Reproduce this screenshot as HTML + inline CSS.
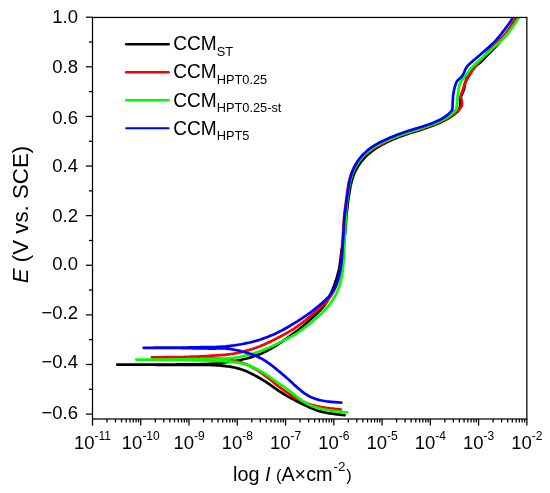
<!DOCTYPE html>
<html><head><meta charset="utf-8"><title>Polarization curves</title>
<style>html,body{margin:0;padding:0;background:#fff;width:550px;height:493px;overflow:hidden}svg{display:block}</style>
</head><body>
<svg width="550" height="493" viewBox="0 0 550 493">
<defs><clipPath id="pc"><rect x="92.50" y="17.20" width="434.35" height="401.80"/></clipPath></defs>
<g clip-path="url(#pc)" fill="none" stroke-width="2.70" stroke-linejoin="round" stroke-linecap="round">
<path d="M344.5,415.2L343.0,415.0L341.5,414.8L340.0,414.7L338.5,414.5L337.0,414.3L335.5,414.1L334.1,413.9L332.6,413.7L331.1,413.5L329.6,413.3L328.1,413.1L326.6,412.8L325.2,412.5L323.7,412.2L322.2,411.9L320.8,411.5L319.4,411.1L317.9,410.7L316.5,410.2L315.1,409.7L313.7,409.1L312.3,408.6L310.9,408.0L309.5,407.4L308.2,406.8L306.8,406.1L305.5,405.5L304.1,404.8L302.8,404.2L301.4,403.5L300.1,402.8L298.7,402.2L297.4,401.5L296.1,400.8L294.7,400.1L293.4,399.4L292.0,398.7L290.7,398.0L289.4,397.3L288.1,396.6L286.8,395.8L285.5,395.1L284.2,394.3L282.9,393.5L281.6,392.7L280.4,391.9L279.1,391.1L277.9,390.3L276.6,389.4L275.4,388.5L274.2,387.7L273.0,386.8L271.8,385.9L270.5,385.0L269.3,384.2L268.1,383.3L266.8,382.5L265.6,381.7L264.3,380.9L263.0,380.1L261.7,379.3L260.4,378.5L259.1,377.8L257.8,377.0L256.5,376.3L255.2,375.6L253.9,374.9L252.5,374.2L251.2,373.5L249.9,372.9L248.5,372.2L247.1,371.6L245.8,371.0L244.4,370.5L243.0,370.0L241.5,369.5L240.1,369.0L238.7,368.6L237.2,368.2L235.8,367.8L234.3,367.5L232.9,367.2L231.4,366.9L229.9,366.7L228.4,366.5L226.9,366.3L225.5,366.1L224.0,365.9L222.5,365.8L221.0,365.6L219.5,365.5L218.0,365.4L216.5,365.3L215.0,365.2L213.5,365.1L212.0,365.1L210.5,365.0L209.0,365.0L207.5,365.0L206.0,364.9L204.5,364.9L203.0,364.9L201.5,364.9L200.0,364.9L198.5,364.9L197.0,364.9L195.5,364.9L194.0,364.9L192.4,364.9L190.9,364.9L189.4,364.9L187.9,364.9L186.4,364.9L184.9,364.8L183.4,364.8L181.9,364.8L180.4,364.8L178.9,364.8L177.4,364.8L175.9,364.8L174.4,364.8L172.9,364.8L171.4,364.8L169.9,364.8L168.4,364.8L166.9,364.8L165.4,364.8L163.9,364.8L162.4,364.8L160.9,364.8L159.4,364.8L157.9,364.8L156.4,364.8L154.9,364.7L153.4,364.7L151.9,364.7L150.4,364.7L148.9,364.7L147.4,364.7L145.9,364.7L144.4,364.7L142.9,364.7L141.3,364.7L139.8,364.7L138.3,364.7L136.8,364.7L135.3,364.7L133.8,364.7L132.3,364.7L130.8,364.7L129.3,364.7L127.8,364.7L126.3,364.7L124.8,364.7L123.3,364.7L121.8,364.7L120.3,364.7L118.8,364.7L117.3,364.7L118.8,364.7L120.3,364.7L121.8,364.7L123.3,364.7L124.8,364.7L126.3,364.7L127.8,364.7L129.3,364.6L130.8,364.6L132.3,364.6L133.8,364.6L135.3,364.6L136.8,364.6L138.3,364.6L139.8,364.6L141.3,364.6L142.8,364.6L144.3,364.6L145.8,364.6L147.3,364.6L148.8,364.6L150.3,364.6L151.8,364.6L153.3,364.6L154.8,364.6L156.3,364.5L157.8,364.5L159.3,364.5L160.9,364.5L162.4,364.5L163.9,364.5L165.4,364.5L166.9,364.5L168.4,364.5L169.9,364.5L171.4,364.5L172.9,364.5L174.4,364.5L175.9,364.5L177.4,364.4L178.9,364.4L180.4,364.4L181.9,364.4L183.4,364.4L184.9,364.4L186.4,364.4L187.9,364.4L189.4,364.4L190.9,364.4L192.4,364.3L193.9,364.3L195.4,364.3L196.9,364.3L198.4,364.3L199.9,364.2L201.4,364.2L202.9,364.1L204.4,364.1L205.9,364.0L207.4,364.0L208.9,363.9L210.4,363.8L211.9,363.7L213.4,363.6L214.9,363.5L216.4,363.4L217.9,363.2L219.4,363.1L220.9,362.9L222.3,362.8L223.8,362.6L225.3,362.4L226.8,362.2L228.3,362.0L229.8,361.8L231.3,361.5L232.8,361.3L234.2,361.0L235.7,360.8L237.2,360.5L238.7,360.2L240.1,360.0L241.6,359.7L243.1,359.3L244.5,359.0L246.0,358.7L247.4,358.3L248.9,357.9L250.3,357.5L251.8,357.1L253.2,356.6L254.6,356.1L256.0,355.6L257.4,355.1L258.8,354.6L260.2,354.0L261.6,353.4L262.9,352.8L264.3,352.1L265.6,351.5L267.0,350.8L268.3,350.1L269.6,349.4L270.9,348.7L272.2,347.9L273.5,347.2L274.8,346.4L276.0,345.6L277.3,344.8L278.6,343.9L279.8,343.1L281.0,342.3L282.3,341.4L283.5,340.6L284.8,339.7L286.0,338.9L287.2,338.0L288.5,337.1L289.7,336.3L290.9,335.4L292.1,334.5L293.4,333.7L294.6,332.8L295.8,331.9L297.0,331.0L298.2,330.1L299.3,329.2L300.5,328.2L301.7,327.3L302.8,326.3L303.9,325.3L305.1,324.3L306.2,323.3L307.3,322.3L308.4,321.3L309.5,320.3L310.6,319.3L311.7,318.3L312.8,317.3L313.9,316.2L315.0,315.2L316.1,314.2L317.2,313.2L318.3,312.1L319.4,311.1L320.4,310.0L321.4,308.9L322.4,307.8L323.3,306.7L324.3,305.5L325.1,304.3L325.9,303.1L326.7,301.9L327.5,300.6L328.2,299.3L328.8,298.0L329.5,296.6L330.1,295.3L330.7,293.9L331.3,292.5L331.9,291.1L332.5,289.7L333.0,288.4L333.6,287.0L334.1,285.6L334.6,284.1L335.1,282.7L335.6,281.3L336.1,279.9L336.6,278.5L337.0,277.0L337.4,275.6L337.8,274.2L338.2,272.7L338.5,271.3L338.9,269.8L339.2,268.3L339.4,266.9L339.7,265.4L339.9,263.9L340.1,262.4L340.3,260.9L340.5,259.5L340.7,258.0L340.9,256.5L341.0,255.0L341.2,253.5L341.3,252.0L341.5,250.5L341.5,250.0L341.9,248.6L342.3,247.1L342.7,245.6L343.0,244.2L343.4,242.7L343.7,241.3L344.1,239.8L344.3,238.3L344.6,236.9L344.8,235.4L345.0,233.9L345.2,232.4L345.4,230.9L345.5,229.4L345.6,227.9L345.7,226.4L345.8,224.9L345.9,223.4L346.0,221.9L346.1,220.4L346.2,218.9L346.3,217.4L346.4,215.9L346.6,214.4L346.7,212.9L346.9,211.4L347.0,210.0L347.2,208.5L347.4,207.0L347.6,205.5L347.7,204.0L347.9,202.5L348.1,201.0L348.3,199.5L348.5,198.0L348.8,196.5L349.0,195.1L349.2,193.6L349.5,192.1L349.7,190.6L350.0,189.1L350.2,187.7L350.5,186.2L350.8,184.7L351.2,183.3L351.5,181.8L351.9,180.4L352.4,178.9L352.8,177.5L353.3,176.1L353.8,174.7L354.4,173.3L355.0,171.9L355.6,170.6L356.3,169.3L357.1,168.0L357.8,166.7L358.6,165.4L359.5,164.2L360.3,163.0L361.2,161.8L362.1,160.6L363.1,159.5L364.1,158.3L365.1,157.2L366.2,156.2L367.2,155.1L368.3,154.1L369.5,153.2L370.6,152.2L371.8,151.3L373.0,150.4L374.2,149.5L375.5,148.7L376.7,147.9L378.0,147.1L379.3,146.3L380.6,145.6L381.9,144.8L383.2,144.1L384.6,143.4L385.9,142.8L387.2,142.1L388.6,141.4L390.0,140.8L391.3,140.2L392.7,139.6L394.1,139.0L395.5,138.4L396.8,137.8L398.2,137.3L399.6,136.7L401.0,136.2L402.5,135.7L403.9,135.2L405.3,134.7L406.7,134.2L408.1,133.7L409.6,133.3L411.0,132.8L412.4,132.4L413.9,131.9L415.3,131.5L416.7,131.1L418.2,130.6L419.6,130.2L421.1,129.7L422.5,129.2L423.9,128.8L425.3,128.3L426.8,127.8L428.2,127.3L429.6,126.8L431.0,126.3L432.4,125.8L433.8,125.2L435.2,124.7L436.6,124.1L438.0,123.5L439.3,122.9L440.7,122.3L442.1,121.6L443.4,121.0L444.7,120.3L446.1,119.6L447.4,118.9L448.7,118.1L449.9,117.3L451.2,116.5L452.4,115.6L453.6,114.7L454.8,113.8L455.9,112.9L457.1,111.9L458.2,110.9L458.8,109.5L459.5,108.2L459.9,106.8L460.2,105.3L460.2,103.8L460.2,102.3L460.2,100.8L460.3,99.3L460.5,97.9L461.0,96.5L461.6,95.1L462.2,93.7L462.8,92.3L463.4,91.0L463.9,89.5L464.2,88.1L464.5,86.6L464.8,85.1L465.1,83.7L465.5,82.2L465.9,80.8L466.3,79.3L466.8,77.9L467.4,76.5L468.2,75.3L469.0,74.0L469.8,72.8L470.7,71.5L471.6,70.4L472.6,69.2L473.7,68.1L474.7,67.0L475.7,66.0L476.9,65.0L478.1,64.1L479.3,63.2L480.5,62.3L481.6,61.3L482.6,60.2L483.7,59.1L484.7,58.0L485.7,56.9L486.7,55.8L487.8,54.7L488.8,53.7L489.9,52.6L491.0,51.5L492.0,50.4L493.1,49.4L494.1,48.3L495.2,47.2L496.2,46.1L497.2,45.0L498.2,43.8L499.1,42.7L500.0,41.5L501.0,40.3L501.9,39.1L502.8,38.0L503.8,36.8L504.7,35.6L505.5,34.3L506.4,33.1L507.3,31.9L508.2,30.7L509.0,29.4L509.9,28.2L510.7,26.9L511.5,25.7L512.4,24.5L513.3,23.2L514.1,22.0L515.0,20.8L515.9,19.5L516.7,18.3L517.6,17.1L518.4,15.8L519.0,15.0" stroke="#000"/>
<path d="M340.9,409.5L339.4,409.3L337.9,409.2L336.4,409.0L334.9,408.9L333.4,408.7L331.9,408.5L330.4,408.4L328.9,408.2L327.5,408.0L326.0,407.8L324.5,407.6L323.0,407.3L321.5,407.1L320.0,406.8L318.6,406.5L317.1,406.2L315.6,405.9L314.2,405.5L312.7,405.1L311.3,404.7L309.9,404.2L308.5,403.8L307.0,403.2L305.7,402.7L304.3,402.1L302.9,401.6L301.5,400.9L300.2,400.3L298.8,399.6L297.5,399.0L296.2,398.2L294.9,397.5L293.6,396.7L292.3,396.0L291.0,395.2L289.8,394.3L288.5,393.5L287.3,392.7L286.0,391.8L284.8,390.9L283.6,390.1L282.4,389.2L281.1,388.3L279.9,387.4L278.7,386.5L277.6,385.6L276.4,384.6L275.2,383.7L274.1,382.7L272.9,381.8L271.7,380.8L270.6,379.9L269.4,378.9L268.2,378.0L267.0,377.1L265.8,376.2L264.6,375.3L263.4,374.4L262.2,373.6L260.9,372.7L259.7,371.9L258.4,371.0L257.2,370.2L255.9,369.4L254.6,368.7L253.3,367.9L252.0,367.2L250.7,366.5L249.4,365.8L248.0,365.1L246.7,364.5L245.3,363.9L243.9,363.4L242.5,362.9L241.1,362.5L239.6,362.0L238.2,361.7L236.7,361.3L235.3,361.0L233.8,360.7L232.3,360.4L230.8,360.2L229.3,360.0L227.9,359.7L226.4,359.5L224.9,359.4L223.4,359.2L221.9,359.0L220.4,358.8L218.9,358.7L217.4,358.5L215.9,358.4L214.4,358.3L212.9,358.2L211.4,358.1L209.9,358.1L208.4,358.0L206.9,357.9L205.4,357.9L203.9,357.8L202.4,357.8L200.9,357.8L199.4,357.7L197.9,357.7L196.4,357.7L194.9,357.7L193.4,357.7L191.9,357.6L190.4,357.6L188.9,357.6L187.4,357.6L185.9,357.6L184.4,357.6L182.9,357.6L181.4,357.6L179.9,357.5L178.4,357.5L176.9,357.5L175.3,357.5L173.8,357.5L172.3,357.5L170.8,357.5L169.3,357.5L167.8,357.4L166.3,357.4L164.8,357.4L163.3,357.4L161.8,357.4L160.3,357.4L158.8,357.4L157.3,357.3L155.8,357.3L154.3,357.3L152.8,357.3L151.8,357.3L153.3,357.3L154.8,357.3L156.3,357.3L157.8,357.3L159.3,357.3L160.8,357.3L162.3,357.3L163.8,357.2L165.3,357.2L166.8,357.2L168.3,357.2L169.8,357.2L171.3,357.2L172.8,357.2L174.3,357.1L175.8,357.1L177.3,357.1L178.8,357.1L180.3,357.0L181.8,357.0L183.3,357.0L184.8,356.9L186.3,356.9L187.8,356.8L189.3,356.8L190.8,356.7L192.3,356.7L193.8,356.6L195.3,356.6L196.8,356.5L198.3,356.5L199.8,356.4L201.3,356.3L202.8,356.3L204.3,356.2L205.8,356.1L207.3,356.0L208.8,355.9L210.3,355.8L211.8,355.7L213.3,355.6L214.8,355.5L216.3,355.4L217.8,355.3L219.3,355.2L220.8,355.1L222.3,355.0L223.8,354.9L225.3,354.8L226.8,354.6L228.2,354.4L229.7,354.3L231.2,354.0L232.7,353.8L234.2,353.6L235.7,353.3L237.1,353.0L238.6,352.7L240.0,352.4L241.5,352.1L243.0,351.7L244.4,351.3L245.9,350.9L247.3,350.5L248.7,350.1L250.2,349.6L251.6,349.2L253.0,348.7L254.4,348.2L255.8,347.7L257.3,347.2L258.7,346.7L260.1,346.2L261.5,345.6L262.8,345.0L264.2,344.5L265.6,343.8L267.0,343.2L268.3,342.6L269.7,342.0L271.0,341.3L272.4,340.6L273.7,340.0L275.0,339.3L276.4,338.6L277.7,337.9L279.0,337.2L280.4,336.5L281.7,335.8L283.0,335.1L284.3,334.4L285.6,333.7L286.9,332.9L288.2,332.2L289.5,331.4L290.8,330.7L292.1,329.9L293.4,329.1L294.6,328.3L295.9,327.4L297.1,326.6L298.3,325.7L299.5,324.8L300.7,324.0L301.9,323.0L303.1,322.1L304.3,321.2L305.5,320.2L306.6,319.3L307.8,318.3L308.9,317.4L310.1,316.4L311.2,315.4L312.3,314.4L313.5,313.5L314.6,312.5L315.8,311.5L316.9,310.5L318.0,309.5L319.1,308.5L320.3,307.5L321.4,306.5L322.4,305.5L323.5,304.5L324.6,303.4L325.6,302.3L326.6,301.2L327.6,300.1L328.5,299.0L329.4,297.8L330.3,296.6L331.2,295.4L332.0,294.1L332.7,292.9L333.5,291.6L334.2,290.2L334.8,288.9L335.4,287.6L336.0,286.2L336.5,284.8L337.0,283.4L337.5,282.0L338.0,280.6L338.4,279.1L338.7,277.7L339.1,276.2L339.4,274.8L339.8,273.3L340.0,271.8L340.3,270.4L340.6,268.9L340.8,267.4L341.0,265.9L341.2,264.4L341.3,263.0L341.5,261.5L341.6,260.0L341.7,258.5L341.7,257.0L341.8,255.5L341.8,254.0L341.9,252.5L341.9,251.0L341.9,250.0L342.0,248.5L342.1,247.0L342.2,245.5L342.3,244.0L342.4,242.5L342.5,241.0L342.6,239.5L342.7,238.0L342.8,236.5L342.9,235.0L343.0,233.5L343.1,232.0L343.2,230.5L343.3,229.0L343.4,227.5L343.4,226.0L343.5,224.5L343.6,223.0L343.7,221.5L343.8,220.0L343.9,218.5L344.1,217.0L344.2,215.5L344.4,214.0L344.5,212.5L344.7,211.0L344.9,209.5L345.1,208.0L345.3,206.6L345.5,205.1L345.7,203.6L345.9,202.1L346.1,200.6L346.3,199.1L346.5,197.6L346.7,196.1L346.9,194.6L347.1,193.1L347.3,191.7L347.5,190.2L347.7,188.7L348.0,187.2L348.2,185.7L348.4,184.2L348.7,182.8L349.0,181.3L349.4,179.8L349.7,178.4L350.2,176.9L350.6,175.5L351.1,174.1L351.6,172.7L352.2,171.3L352.8,170.0L353.4,168.6L354.1,167.3L354.9,166.0L355.7,164.8L356.5,163.5L357.4,162.3L358.3,161.2L359.3,160.0L360.3,158.9L361.3,157.8L362.4,156.8L363.5,155.8L364.6,154.8L365.8,153.8L366.9,152.9L368.1,152.0L369.4,151.2L370.6,150.3L371.9,149.5L373.1,148.7L374.4,147.9L375.7,147.2L377.0,146.4L378.3,145.7L379.6,145.0L381.0,144.3L382.3,143.6L383.6,142.9L385.0,142.2L386.3,141.5L387.7,140.9L389.0,140.2L390.4,139.5L391.7,138.9L393.1,138.3L394.5,137.7L395.9,137.1L397.2,136.6L398.6,136.0L400.1,135.5L401.5,135.0L402.9,134.5L404.3,134.0L405.7,133.6L407.2,133.1L408.6,132.7L410.1,132.3L411.5,131.8L412.9,131.4L414.4,131.0L415.8,130.5L417.3,130.1L418.7,129.7L420.1,129.2L421.6,128.7L423.0,128.3L424.4,127.8L425.8,127.3L427.3,126.8L428.7,126.3L430.1,125.8L431.5,125.3L432.9,124.8L434.3,124.2L435.7,123.7L437.1,123.1L438.5,122.5L439.8,121.9L441.2,121.2L442.5,120.6L443.9,119.9L445.2,119.2L446.5,118.5L447.8,117.7L449.1,117.0L450.4,116.2L451.6,115.3L452.8,114.5L454.1,113.6L455.3,112.7L456.4,111.8L457.6,110.8L458.8,109.9L459.2,109.6L460.1,108.4L461.0,107.2L461.7,105.9L462.0,104.6L462.0,103.1L461.9,101.6L461.7,100.1L461.3,98.7L460.8,97.3L460.6,96.0L461.0,94.6L461.5,93.2L462.1,91.8L462.6,90.4L463.1,89.0L463.5,87.5L464.0,86.1L464.4,84.7L464.9,83.3L465.6,81.9L466.3,80.6L467.1,79.3L467.8,78.0L468.6,76.7L469.4,75.4L470.2,74.2L471.0,72.9L471.8,71.6L472.6,70.3L473.4,69.1L474.3,67.9L475.2,66.7L476.1,65.5L477.1,64.3L478.1,63.2L479.1,62.1L480.1,61.0L481.1,59.9L482.1,58.8L483.1,57.6L484.0,56.5L485.0,55.3L485.9,54.1L486.9,53.0L487.8,51.8L488.8,50.7L489.8,49.6L490.9,48.5L492.0,47.5L493.1,46.5L494.2,45.5L495.3,44.5L496.4,43.4L497.5,42.3L498.5,41.2L499.5,40.1L500.5,39.0L501.6,37.9L502.6,36.9L503.7,35.8L504.7,34.7L505.7,33.6L506.5,32.4L507.4,31.1L508.3,29.9L509.1,28.7L510.0,27.4L510.8,26.2L511.6,24.9L512.4,23.6L513.2,22.4L514.0,21.1L514.7,19.8L515.4,18.4L516.2,17.1L517.0,15.8L517.5,15.0" stroke="#ff0000"/>
<path d="M347.1,412.4L345.6,412.3L344.1,412.1L342.6,412.0L341.1,411.8L339.6,411.7L338.1,411.5L336.6,411.3L335.1,411.2L333.7,411.0L332.2,410.8L330.7,410.6L329.2,410.3L327.7,410.1L326.2,409.8L324.8,409.6L323.3,409.3L321.8,409.0L320.4,408.6L318.9,408.2L317.5,407.8L316.0,407.4L314.6,406.9L313.2,406.4L311.8,405.9L310.4,405.3L309.1,404.7L307.7,404.0L306.4,403.3L305.2,402.6L303.9,401.8L302.7,400.9L301.4,400.1L300.2,399.2L299.0,398.3L297.8,397.4L296.6,396.5L295.4,395.5L294.3,394.6L293.1,393.7L291.9,392.7L290.7,391.8L289.5,390.9L288.3,390.0L287.1,389.1L285.9,388.3L284.6,387.4L283.4,386.6L282.2,385.7L280.9,384.9L279.7,384.0L278.5,383.2L277.2,382.3L276.0,381.4L274.8,380.5L273.6,379.6L272.4,378.8L271.2,377.9L269.9,377.0L268.7,376.1L267.5,375.3L266.2,374.5L265.0,373.7L263.7,372.9L262.4,372.1L261.1,371.3L259.8,370.6L258.5,369.9L257.2,369.2L255.8,368.5L254.5,367.9L253.1,367.3L251.7,366.7L250.3,366.1L248.9,365.6L247.5,365.1L246.1,364.7L244.7,364.2L243.2,363.9L241.8,363.5L240.3,363.2L238.8,362.8L237.4,362.6L235.9,362.3L234.4,362.1L232.9,361.9L231.4,361.7L229.9,361.6L228.4,361.5L226.9,361.4L225.4,361.3L223.9,361.2L222.4,361.1L220.9,361.1L219.4,361.1L217.9,361.0L216.4,361.0L214.9,360.9L213.4,360.9L211.9,360.9L210.4,360.8L208.9,360.7L207.4,360.7L205.9,360.6L204.4,360.6L202.9,360.5L201.4,360.5L199.9,360.4L198.4,360.4L196.9,360.3L195.4,360.3L193.9,360.3L192.4,360.2L190.9,360.2L189.4,360.2L187.9,360.1L186.4,360.1L184.9,360.0L183.4,360.0L181.9,360.0L180.4,359.9L178.9,359.9L177.4,359.9L175.9,359.8L174.4,359.8L172.9,359.8L171.4,359.8L169.9,359.7L168.4,359.7L166.9,359.7L165.4,359.7L163.9,359.7L162.3,359.7L160.8,359.7L159.3,359.7L157.8,359.7L156.3,359.7L154.8,359.7L153.3,359.7L151.8,359.7L150.3,359.7L148.8,359.7L147.3,359.7L145.8,359.7L144.3,359.7L142.8,359.7L141.3,359.7L139.8,359.7L138.3,359.7L136.8,359.7L136.3,359.7L137.8,359.7L139.3,359.7L140.8,359.7L142.3,359.7L143.8,359.7L145.3,359.7L146.8,359.7L148.3,359.7L149.8,359.7L151.3,359.7L152.8,359.7L154.3,359.6L155.8,359.6L157.3,359.6L158.8,359.6L160.3,359.6L161.8,359.6L163.3,359.6L164.8,359.6L166.3,359.6L167.8,359.6L169.3,359.6L170.9,359.5L172.4,359.5L173.9,359.5L175.4,359.5L176.9,359.5L178.4,359.4L179.9,359.4L181.4,359.4L182.9,359.3L184.4,359.3L185.9,359.3L187.4,359.3L188.9,359.2L190.4,359.2L191.9,359.2L193.4,359.1L194.9,359.1L196.4,359.1L197.9,359.0L199.4,359.0L200.9,358.9L202.4,358.9L203.9,358.9L205.4,358.8L206.9,358.8L208.4,358.8L209.9,358.7L211.4,358.7L212.9,358.7L214.4,358.7L215.9,358.7L217.4,358.7L218.9,358.7L220.4,358.7L221.9,358.6L223.4,358.6L224.9,358.6L226.4,358.5L227.9,358.4L229.4,358.3L230.9,358.1L232.4,358.0L233.8,357.8L235.3,357.6L236.8,357.4L238.3,357.1L239.8,356.9L241.2,356.6L242.7,356.3L244.2,355.9L245.6,355.6L247.1,355.2L248.5,354.9L250.0,354.5L251.4,354.0L252.8,353.6L254.3,353.2L255.7,352.7L257.1,352.2L258.5,351.8L260.0,351.3L261.4,350.7L262.8,350.2L264.2,349.6L265.5,349.1L266.9,348.5L268.3,347.9L269.7,347.3L271.0,346.6L272.4,346.0L273.7,345.4L275.1,344.7L276.4,344.0L277.8,343.4L279.1,342.7L280.5,342.1L281.8,341.4L283.2,340.7L284.5,340.1L285.9,339.4L287.2,338.7L288.5,338.0L289.9,337.3L291.2,336.6L292.5,335.9L293.8,335.1L295.1,334.4L296.3,333.6L297.6,332.8L298.8,331.9L300.1,331.1L301.3,330.2L302.5,329.3L303.7,328.4L304.9,327.5L306.1,326.6L307.2,325.7L308.4,324.7L309.6,323.8L310.7,322.8L311.9,321.9L313.0,320.9L314.2,319.9L315.3,318.9L316.5,318.0L317.6,317.0L318.7,316.0L319.8,314.9L320.9,313.9L322.0,312.9L323.0,311.8L324.1,310.7L325.1,309.6L326.1,308.5L327.1,307.4L328.0,306.3L329.0,305.1L329.9,303.9L330.8,302.7L331.6,301.5L332.5,300.3L333.3,299.0L334.0,297.7L334.8,296.5L335.5,295.1L336.2,293.8L336.8,292.5L337.4,291.1L338.0,289.8L338.6,288.4L339.1,287.0L339.5,285.6L340.0,284.1L340.4,282.7L340.7,281.3L341.1,279.8L341.4,278.3L341.7,276.9L341.9,275.4L342.2,273.9L342.4,272.4L342.6,271.0L342.8,269.5L343.0,268.0L343.1,266.5L343.3,265.0L343.4,263.5L343.5,262.0L343.6,260.5L343.7,259.0L343.8,257.5L343.9,256.0L344.0,254.5L344.1,253.0L344.1,251.5L344.2,250.0L344.3,248.5L344.4,247.0L344.4,245.5L344.5,244.0L344.6,242.5L344.7,241.0L344.7,239.5L344.8,238.0L344.9,236.5L345.0,235.0L345.0,233.5L345.1,232.0L345.2,230.5L345.2,229.0L345.3,227.5L345.4,226.0L345.4,224.5L345.5,223.0L345.6,221.5L345.6,220.0L345.7,218.5L345.8,217.0L345.9,215.5L346.0,214.0L346.0,212.5L346.2,211.0L346.3,209.5L346.4,208.0L346.5,206.5L346.7,205.0L346.9,203.5L347.0,202.0L347.2,200.5L347.4,199.0L347.6,197.5L347.8,196.0L348.0,194.5L348.2,193.0L348.4,191.6L348.6,190.1L348.9,188.6L349.1,187.1L349.4,185.6L349.6,184.2L349.9,182.7L350.3,181.2L350.6,179.8L351.0,178.3L351.5,176.9L351.9,175.5L352.4,174.1L352.9,172.7L353.5,171.3L354.1,169.9L354.7,168.5L355.4,167.2L356.1,165.9L356.8,164.6L357.6,163.3L358.4,162.1L359.3,160.8L360.2,159.6L361.1,158.5L362.1,157.3L363.1,156.2L364.1,155.1L365.2,154.1L366.2,153.1L367.4,152.1L368.5,151.1L369.7,150.2L370.9,149.3L372.1,148.4L373.3,147.6L374.6,146.7L375.9,146.0L377.1,145.2L378.5,144.5L379.8,143.7L381.1,143.1L382.5,142.4L383.8,141.8L385.2,141.1L386.6,140.5L387.9,139.9L389.3,139.4L390.7,138.8L392.1,138.2L393.5,137.7L394.9,137.1L396.3,136.5L397.7,136.0L399.1,135.5L400.5,135.0L401.9,134.4L403.3,133.9L404.8,133.4L406.2,133.0L407.6,132.5L409.0,132.1L410.5,131.6L411.9,131.2L413.4,130.7L414.8,130.3L416.2,129.9L417.7,129.4L419.1,129.0L420.5,128.5L422.0,128.1L423.4,127.6L424.8,127.1L426.2,126.6L427.7,126.1L429.1,125.6L430.5,125.1L431.9,124.6L433.3,124.1L434.7,123.5L436.1,122.9L437.5,122.3L438.8,121.7L440.2,121.1L441.5,120.4L442.9,119.7L444.2,119.0L445.5,118.3L446.8,117.5L448.0,116.7L449.3,115.9L450.4,115.0L451.6,114.1L452.7,113.1L453.8,112.1L454.8,111.0L455.9,110.0L456.2,109.6L456.5,108.1L456.7,106.6L456.9,105.1L457.1,103.6L457.2,102.1L457.3,100.6L457.4,99.1L457.5,97.6L457.6,96.1L457.8,94.6L458.0,93.1L458.2,91.7L458.4,90.2L458.6,88.7L458.9,87.2L459.2,85.7L459.6,84.3L460.3,83.0L461.0,81.6L461.7,80.3L462.7,79.2L463.6,78.0L464.6,76.9L465.6,75.7L466.6,74.6L467.4,73.3L468.3,72.1L469.1,70.9L470.0,69.6L470.9,68.5L472.0,67.4L473.0,66.3L474.1,65.2L475.1,64.1L476.3,63.1L477.4,62.1L478.5,61.1L479.6,60.1L480.7,59.1L481.9,58.1L483.0,57.1L484.1,56.1L485.2,55.1L486.3,54.1L487.5,53.1L488.6,52.1L489.7,51.1L490.8,50.0L491.9,49.0L493.0,48.0L494.1,47.0L495.2,45.9L496.3,44.9L497.5,43.9L498.6,42.9L499.7,41.9L500.8,40.9L501.9,39.8L502.9,38.8L504.0,37.7L505.0,36.6L506.0,35.5L507.0,34.4L508.0,33.2L508.9,32.0L509.8,30.8L510.7,29.6L511.6,28.4L512.5,27.1L513.3,25.9L514.2,24.7L515.1,23.4L515.9,22.2L516.7,20.9L517.5,19.6L518.3,18.4L519.1,17.1L519.9,15.8L520.5,15.0" stroke="#00ff00"/>
<path d="M341.2,402.6L339.7,402.5L338.2,402.4L336.7,402.3L335.2,402.2L333.7,402.1L332.2,401.9L330.7,401.8L329.2,401.6L327.7,401.5L326.3,401.3L324.8,401.0L323.3,400.8L321.8,400.5L320.4,400.2L318.9,399.9L317.5,399.5L316.0,399.1L314.6,398.6L313.2,398.1L311.9,397.5L310.5,396.9L309.2,396.2L307.9,395.5L306.6,394.7L305.4,393.9L304.1,393.1L302.9,392.2L301.7,391.3L300.6,390.3L299.4,389.3L298.3,388.4L297.2,387.4L296.1,386.4L294.9,385.4L293.8,384.4L292.7,383.3L291.6,382.3L290.5,381.3L289.4,380.3L288.3,379.3L287.1,378.3L286.0,377.3L284.9,376.3L283.8,375.4L282.6,374.4L281.5,373.4L280.3,372.4L279.2,371.5L278.0,370.5L276.9,369.6L275.7,368.6L274.5,367.7L273.4,366.7L272.2,365.8L271.0,364.9L269.8,364.0L268.6,363.1L267.4,362.3L266.1,361.4L264.9,360.6L263.6,359.8L262.3,359.1L261.0,358.4L259.7,357.7L258.3,357.0L257.0,356.4L255.6,355.8L254.2,355.2L252.8,354.7L251.4,354.2L250.0,353.7L248.6,353.3L247.1,352.9L245.7,352.4L244.2,352.0L242.8,351.7L241.3,351.3L239.9,350.9L238.4,350.6L236.9,350.3L235.5,350.0L234.0,349.7L232.5,349.4L231.1,349.2L229.6,349.0L228.1,348.8L226.6,348.6L225.1,348.5L223.6,348.5L222.1,348.5L220.6,348.5L219.1,348.5L217.6,348.5L216.1,348.5L214.6,348.6L213.1,348.6L211.6,348.6L210.1,348.6L208.6,348.6L207.1,348.5L205.6,348.5L204.1,348.5L202.6,348.5L201.1,348.4L199.6,348.4L198.1,348.4L196.6,348.3L195.1,348.3L193.6,348.3L192.1,348.2L190.6,348.2L189.1,348.2L187.6,348.2L186.1,348.1L184.6,348.1L183.1,348.1L181.6,348.1L180.1,348.0L178.6,348.0L177.1,348.0L175.6,348.0L174.1,348.0L172.6,348.0L171.1,348.0L169.6,347.9L168.1,347.9L166.6,347.9L165.1,347.9L163.6,347.9L162.1,347.9L160.6,347.9L159.1,347.9L157.6,347.9L156.1,347.9L154.6,347.9L153.1,347.9L151.6,347.8L150.1,347.8L148.6,347.8L147.1,347.8L145.6,347.8L144.1,347.8L143.6,347.8L145.1,347.8L146.6,347.8L148.1,347.8L149.6,347.8L151.1,347.8L152.6,347.8L154.1,347.7L155.6,347.7L157.1,347.7L158.6,347.7L160.1,347.7L161.6,347.7L163.1,347.7L164.6,347.7L166.1,347.7L167.6,347.7L169.1,347.7L170.6,347.6L172.1,347.6L173.6,347.6L175.1,347.6L176.6,347.6L178.1,347.6L179.6,347.6L181.1,347.6L182.6,347.5L184.1,347.5L185.6,347.5L187.1,347.5L188.6,347.4L190.1,347.4L191.6,347.4L193.1,347.4L194.6,347.3L196.1,347.3L197.6,347.3L199.1,347.3L200.6,347.2L202.1,347.2L203.6,347.2L205.1,347.2L206.6,347.1L208.1,347.1L209.6,347.1L211.1,347.1L212.6,347.0L214.1,347.0L215.6,347.0L217.1,346.9L218.6,346.9L220.1,346.8L221.6,346.7L223.1,346.6L224.6,346.5L226.1,346.4L227.5,346.2L229.0,346.1L230.5,345.9L232.0,345.7L233.5,345.5L235.0,345.3L236.5,345.0L237.9,344.8L239.4,344.5L240.9,344.3L242.4,344.0L243.8,343.7L245.3,343.4L246.8,343.1L248.2,342.8L249.7,342.5L251.2,342.1L252.6,341.8L254.0,341.4L255.5,341.0L256.9,340.6L258.4,340.1L259.8,339.7L261.2,339.2L262.6,338.7L264.0,338.2L265.4,337.7L266.8,337.2L268.2,336.7L269.6,336.1L271.0,335.5L272.4,335.0L273.8,334.4L275.2,333.8L276.5,333.1L277.9,332.5L279.2,331.8L280.5,331.1L281.9,330.4L283.2,329.7L284.5,329.0L285.8,328.3L287.1,327.5L288.4,326.8L289.7,326.0L291.0,325.2L292.2,324.5L293.5,323.7L294.8,322.9L296.1,322.1L297.4,321.3L298.6,320.5L299.9,319.7L301.1,318.9L302.4,318.1L303.6,317.2L304.9,316.4L306.1,315.5L307.3,314.7L308.5,313.8L309.8,312.9L311.0,312.0L312.2,311.1L313.3,310.2L314.5,309.3L315.7,308.3L316.9,307.4L318.0,306.4L319.2,305.5L320.3,304.5L321.5,303.5L322.6,302.6L323.7,301.6L324.8,300.5L325.9,299.5L326.9,298.5L328.0,297.4L329.0,296.3L329.9,295.2L330.8,294.0L331.7,292.8L332.5,291.6L333.3,290.4L334.0,289.1L334.7,287.8L335.4,286.5L336.0,285.1L336.6,283.7L337.1,282.3L337.6,280.9L338.0,279.5L338.5,278.1L338.9,276.7L339.2,275.2L339.6,273.8L339.9,272.3L340.2,270.8L340.4,269.4L340.7,267.9L340.9,266.4L341.1,264.9L341.3,263.4L341.5,262.0L341.6,260.5L341.8,259.0L341.9,257.5L342.0,256.0L342.1,254.5L342.2,253.0L342.3,251.5L342.4,250.0L342.5,248.5L342.6,247.0L342.7,245.5L342.8,244.0L342.9,242.5L343.0,241.0L343.1,239.5L343.2,238.0L343.3,236.5L343.4,235.0L343.5,233.5L343.6,232.0L343.7,230.5L343.8,229.0L343.8,227.5L343.9,226.0L344.0,224.5L344.1,223.0L344.2,221.6L344.3,220.1L344.4,218.6L344.6,217.1L344.7,215.6L344.9,214.1L345.0,212.6L345.2,211.1L345.4,209.6L345.6,208.1L345.8,206.6L346.0,205.2L346.2,203.7L346.4,202.2L346.6,200.7L346.8,199.2L347.0,197.7L347.2,196.2L347.4,194.8L347.6,193.3L347.8,191.8L348.0,190.3L348.2,188.8L348.4,187.3L348.7,185.8L348.9,184.4L349.2,182.9L349.5,181.4L349.9,180.0L350.2,178.5L350.6,177.1L351.0,175.7L351.5,174.2L352.0,172.8L352.5,171.4L353.1,170.0L353.6,168.7L354.3,167.3L354.9,166.0L355.6,164.7L356.4,163.4L357.1,162.1L358.0,160.8L358.8,159.6L359.7,158.4L360.6,157.2L361.6,156.1L362.6,155.0L363.6,153.9L364.7,152.9L365.8,151.9L366.9,150.9L368.0,149.9L369.2,149.0L370.4,148.1L371.6,147.3L372.9,146.4L374.1,145.6L375.4,144.8L376.7,144.1L378.0,143.3L379.3,142.6L380.7,142.0L382.0,141.3L383.4,140.7L384.7,140.1L386.1,139.4L387.5,138.8L388.8,138.2L390.2,137.6L391.6,137.1L393.0,136.5L394.4,135.9L395.7,135.3L397.1,134.8L398.5,134.2L399.9,133.7L401.3,133.2L402.8,132.7L404.2,132.2L405.6,131.7L407.0,131.3L408.5,130.8L409.9,130.4L411.3,129.9L412.8,129.5L414.2,129.1L415.6,128.6L417.1,128.2L418.5,127.8L419.9,127.3L421.4,126.9L422.8,126.4L424.2,125.9L425.6,125.4L427.1,125.0L428.5,124.5L429.9,123.9L431.3,123.4L432.7,122.9L434.1,122.3L435.5,121.8L436.8,121.2L438.2,120.6L439.5,119.9L440.9,119.2L442.2,118.5L443.4,117.8L444.7,116.9L445.9,116.1L447.1,115.2L448.2,114.2L449.3,113.2L450.3,112.2L451.3,111.1L452.3,110.0L452.4,108.5L452.5,107.0L452.6,105.5L452.6,104.0L452.7,102.5L452.8,101.0L452.9,99.5L453.0,98.0L453.0,96.5L453.2,95.0L453.4,93.5L453.7,92.1L454.0,90.6L454.3,89.1L454.6,87.6L455.0,86.2L455.5,84.8L456.0,83.4L456.5,82.0L457.3,80.8L458.4,79.8L459.5,78.8L460.6,77.7L461.6,76.6L462.6,75.5L463.3,74.2L463.9,72.9L464.5,71.5L465.0,70.1L465.7,68.7L466.5,67.5L467.3,66.2L468.3,65.1L469.4,64.0L470.5,63.1L471.6,62.1L472.8,61.1L473.9,60.1L475.1,59.2L476.2,58.2L477.3,57.2L478.5,56.2L479.6,55.3L480.8,54.3L481.9,53.3L483.0,52.3L484.2,51.3L485.3,50.3L486.4,49.3L487.5,48.3L488.7,47.3L489.8,46.3L490.9,45.3L492.0,44.3L493.1,43.3L494.2,42.3L495.2,41.2L496.2,40.0L497.1,38.9L498.1,37.7L499.1,36.6L500.0,35.4L501.0,34.3L501.9,33.1L502.8,31.9L503.7,30.7L504.6,29.5L505.5,28.3L506.4,27.1L507.3,25.9L508.2,24.7L509.1,23.5L510.0,22.3L510.8,21.0L511.6,19.7L512.3,18.4L513.0,17.1L513.8,15.8L514.4,15.0" stroke="#0000ff"/>
</g>
<g stroke="#000" stroke-width="1.25" fill="none">
<rect x="92.50" y="17.45" width="434.35" height="401.55"/>
<line x1="85.90" y1="414.10" x2="92.50" y2="414.10"/>
<line x1="88.90" y1="389.29" x2="92.50" y2="389.29"/>
<line x1="85.90" y1="364.49" x2="92.50" y2="364.49"/>
<line x1="88.90" y1="339.68" x2="92.50" y2="339.68"/>
<line x1="85.90" y1="314.88" x2="92.50" y2="314.88"/>
<line x1="88.90" y1="290.07" x2="92.50" y2="290.07"/>
<line x1="85.90" y1="265.26" x2="92.50" y2="265.26"/>
<line x1="88.90" y1="240.46" x2="92.50" y2="240.46"/>
<line x1="85.90" y1="215.65" x2="92.50" y2="215.65"/>
<line x1="88.90" y1="190.84" x2="92.50" y2="190.84"/>
<line x1="85.90" y1="166.04" x2="92.50" y2="166.04"/>
<line x1="88.90" y1="141.23" x2="92.50" y2="141.23"/>
<line x1="85.90" y1="116.43" x2="92.50" y2="116.43"/>
<line x1="88.90" y1="91.62" x2="92.50" y2="91.62"/>
<line x1="85.90" y1="66.81" x2="92.50" y2="66.81"/>
<line x1="88.90" y1="42.01" x2="92.50" y2="42.01"/>
<line x1="85.90" y1="17.20" x2="92.50" y2="17.20"/>
<line x1="92.50" y1="419.00" x2="92.50" y2="425.60"/>
<line x1="107.03" y1="419.00" x2="107.03" y2="422.40"/>
<line x1="115.53" y1="419.00" x2="115.53" y2="422.40"/>
<line x1="121.56" y1="419.00" x2="121.56" y2="422.40"/>
<line x1="126.23" y1="419.00" x2="126.23" y2="422.40"/>
<line x1="130.05" y1="419.00" x2="130.05" y2="422.40"/>
<line x1="133.29" y1="419.00" x2="133.29" y2="422.40"/>
<line x1="136.08" y1="419.00" x2="136.08" y2="422.40"/>
<line x1="138.55" y1="419.00" x2="138.55" y2="422.40"/>
<line x1="140.76" y1="419.00" x2="140.76" y2="425.60"/>
<line x1="155.29" y1="419.00" x2="155.29" y2="422.40"/>
<line x1="163.79" y1="419.00" x2="163.79" y2="422.40"/>
<line x1="169.82" y1="419.00" x2="169.82" y2="422.40"/>
<line x1="174.49" y1="419.00" x2="174.49" y2="422.40"/>
<line x1="178.32" y1="419.00" x2="178.32" y2="422.40"/>
<line x1="181.55" y1="419.00" x2="181.55" y2="422.40"/>
<line x1="184.35" y1="419.00" x2="184.35" y2="422.40"/>
<line x1="186.81" y1="419.00" x2="186.81" y2="422.40"/>
<line x1="189.02" y1="419.00" x2="189.02" y2="425.60"/>
<line x1="203.55" y1="419.00" x2="203.55" y2="422.40"/>
<line x1="212.05" y1="419.00" x2="212.05" y2="422.40"/>
<line x1="218.08" y1="419.00" x2="218.08" y2="422.40"/>
<line x1="222.76" y1="419.00" x2="222.76" y2="422.40"/>
<line x1="226.58" y1="419.00" x2="226.58" y2="422.40"/>
<line x1="229.81" y1="419.00" x2="229.81" y2="422.40"/>
<line x1="232.61" y1="419.00" x2="232.61" y2="422.40"/>
<line x1="235.08" y1="419.00" x2="235.08" y2="422.40"/>
<line x1="237.28" y1="419.00" x2="237.28" y2="425.60"/>
<line x1="251.81" y1="419.00" x2="251.81" y2="422.40"/>
<line x1="260.31" y1="419.00" x2="260.31" y2="422.40"/>
<line x1="266.34" y1="419.00" x2="266.34" y2="422.40"/>
<line x1="271.02" y1="419.00" x2="271.02" y2="422.40"/>
<line x1="274.84" y1="419.00" x2="274.84" y2="422.40"/>
<line x1="278.07" y1="419.00" x2="278.07" y2="422.40"/>
<line x1="280.87" y1="419.00" x2="280.87" y2="422.40"/>
<line x1="283.34" y1="419.00" x2="283.34" y2="422.40"/>
<line x1="285.54" y1="419.00" x2="285.54" y2="425.60"/>
<line x1="300.07" y1="419.00" x2="300.07" y2="422.40"/>
<line x1="308.57" y1="419.00" x2="308.57" y2="422.40"/>
<line x1="314.60" y1="419.00" x2="314.60" y2="422.40"/>
<line x1="319.28" y1="419.00" x2="319.28" y2="422.40"/>
<line x1="323.10" y1="419.00" x2="323.10" y2="422.40"/>
<line x1="326.33" y1="419.00" x2="326.33" y2="422.40"/>
<line x1="329.13" y1="419.00" x2="329.13" y2="422.40"/>
<line x1="331.60" y1="419.00" x2="331.60" y2="422.40"/>
<line x1="333.81" y1="419.00" x2="333.81" y2="425.60"/>
<line x1="348.33" y1="419.00" x2="348.33" y2="422.40"/>
<line x1="356.83" y1="419.00" x2="356.83" y2="422.40"/>
<line x1="362.86" y1="419.00" x2="362.86" y2="422.40"/>
<line x1="367.54" y1="419.00" x2="367.54" y2="422.40"/>
<line x1="371.36" y1="419.00" x2="371.36" y2="422.40"/>
<line x1="374.59" y1="419.00" x2="374.59" y2="422.40"/>
<line x1="377.39" y1="419.00" x2="377.39" y2="422.40"/>
<line x1="379.86" y1="419.00" x2="379.86" y2="422.40"/>
<line x1="382.07" y1="419.00" x2="382.07" y2="425.60"/>
<line x1="396.59" y1="419.00" x2="396.59" y2="422.40"/>
<line x1="405.09" y1="419.00" x2="405.09" y2="422.40"/>
<line x1="411.12" y1="419.00" x2="411.12" y2="422.40"/>
<line x1="415.80" y1="419.00" x2="415.80" y2="422.40"/>
<line x1="419.62" y1="419.00" x2="419.62" y2="422.40"/>
<line x1="422.85" y1="419.00" x2="422.85" y2="422.40"/>
<line x1="425.65" y1="419.00" x2="425.65" y2="422.40"/>
<line x1="428.12" y1="419.00" x2="428.12" y2="422.40"/>
<line x1="430.33" y1="419.00" x2="430.33" y2="425.60"/>
<line x1="444.86" y1="419.00" x2="444.86" y2="422.40"/>
<line x1="453.35" y1="419.00" x2="453.35" y2="422.40"/>
<line x1="459.38" y1="419.00" x2="459.38" y2="422.40"/>
<line x1="464.06" y1="419.00" x2="464.06" y2="422.40"/>
<line x1="467.88" y1="419.00" x2="467.88" y2="422.40"/>
<line x1="471.11" y1="419.00" x2="471.11" y2="422.40"/>
<line x1="473.91" y1="419.00" x2="473.91" y2="422.40"/>
<line x1="476.38" y1="419.00" x2="476.38" y2="422.40"/>
<line x1="478.59" y1="419.00" x2="478.59" y2="425.60"/>
<line x1="493.12" y1="419.00" x2="493.12" y2="422.40"/>
<line x1="501.62" y1="419.00" x2="501.62" y2="422.40"/>
<line x1="507.64" y1="419.00" x2="507.64" y2="422.40"/>
<line x1="512.32" y1="419.00" x2="512.32" y2="422.40"/>
<line x1="516.14" y1="419.00" x2="516.14" y2="422.40"/>
<line x1="519.37" y1="419.00" x2="519.37" y2="422.40"/>
<line x1="522.17" y1="419.00" x2="522.17" y2="422.40"/>
<line x1="524.64" y1="419.00" x2="524.64" y2="422.40"/>
<line x1="526.85" y1="419.00" x2="526.85" y2="425.60"/>
</g>
<g font-family='"Liberation Sans", Arial, sans-serif' font-size="18.5" fill="#000" text-anchor="end">
<text x="78.00" y="418.65">−0.6</text>
<text x="78.00" y="368.49">−0.4</text>
<text x="78.00" y="318.68">−0.2</text>
<text x="78.00" y="270.46">0.0</text>
<text x="78.00" y="222.15">0.2</text>
<text x="78.00" y="172.34">0.4</text>
<text x="78.00" y="123.63">0.6</text>
<text x="78.00" y="73.11">0.8</text>
<text x="78.00" y="23.00">1.0</text>
</g>
<g font-family='"Liberation Sans", Arial, sans-serif' font-size="18.5" fill="#000" text-anchor="middle">
<text x="92.50" y="448.80">10<tspan font-size="12.0" dy="-8.80">-11</tspan></text>
<text x="140.76" y="448.80">10<tspan font-size="12.0" dy="-8.80">-10</tspan></text>
<text x="189.02" y="448.80">10<tspan font-size="12.0" dy="-8.80">-9</tspan></text>
<text x="237.28" y="448.80">10<tspan font-size="12.0" dy="-8.80">-8</tspan></text>
<text x="285.54" y="448.80">10<tspan font-size="12.0" dy="-8.80">-7</tspan></text>
<text x="333.81" y="448.80">10<tspan font-size="12.0" dy="-8.80">-6</tspan></text>
<text x="382.07" y="448.80">10<tspan font-size="12.0" dy="-8.80">-5</tspan></text>
<text x="430.33" y="448.80">10<tspan font-size="12.0" dy="-8.80">-4</tspan></text>
<text x="478.59" y="448.80">10<tspan font-size="12.0" dy="-8.80">-3</tspan></text>
<text x="526.85" y="448.80">10<tspan font-size="12.0" dy="-8.80">-2</tspan></text>
</g>
<text x="233.00" y="481.10" font-family='"Liberation Sans", Arial, sans-serif' font-size="19.8" fill="#000">log <tspan font-style="italic">I</tspan> <tspan font-size="16.5">(</tspan>A×cm<tspan font-size="13.4" dy="-9.7" dx="0.9">-2</tspan><tspan dy="9.7" dx="0.8" font-size="16.5">)</tspan></text>
<text transform="translate(28.40,214.50) rotate(-90)" text-anchor="middle" font-family='"Liberation Sans", Arial, sans-serif' font-size="22.3" fill="#000"><tspan font-style="italic">E</tspan> (V vs. SCE)</text>
<line x1="126.20" y1="44.30" x2="168.60" y2="44.30" stroke="#000" stroke-width="2.50" stroke-linecap="round"/>
<text transform="translate(173.20,50.20) scale(1,1.050)" font-family='"Liberation Sans", Arial, sans-serif' font-size="19.1" fill="#000">CCM<tspan font-size="12.8" dy="5.50">ST</tspan></text>
<line x1="126.20" y1="72.30" x2="168.60" y2="72.30" stroke="#ff0000" stroke-width="2.50" stroke-linecap="round"/>
<text transform="translate(173.20,78.35) scale(1,1.050)" font-family='"Liberation Sans", Arial, sans-serif' font-size="19.1" fill="#000">CCM<tspan font-size="12.8" dy="5.50">HPT0.25</tspan></text>
<line x1="126.20" y1="100.30" x2="168.60" y2="100.30" stroke="#00ff00" stroke-width="2.50" stroke-linecap="round"/>
<text transform="translate(173.20,106.50) scale(1,1.050)" font-family='"Liberation Sans", Arial, sans-serif' font-size="19.1" fill="#000">CCM<tspan font-size="12.8" dy="5.50">HPT0.25-st</tspan></text>
<line x1="126.20" y1="128.30" x2="168.60" y2="128.30" stroke="#0000ff" stroke-width="2.10" stroke-linecap="round"/>
<text transform="translate(173.20,134.65) scale(1,1.050)" font-family='"Liberation Sans", Arial, sans-serif' font-size="19.1" fill="#000">CCM<tspan font-size="12.8" dy="5.50">HPT5</tspan></text>
</svg>
</body></html>
